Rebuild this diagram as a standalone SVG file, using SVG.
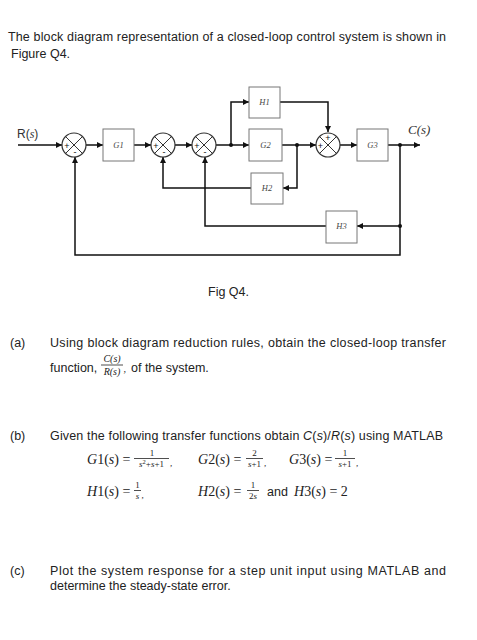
<svg xmlns="http://www.w3.org/2000/svg" width="477" height="640" viewBox="0 0 477 640">
<defs>
<marker id="arr" viewBox="0 0 10 10" refX="10" refY="5" markerWidth="6" markerHeight="6" markerUnits="userSpaceOnUse" orient="auto">
<path d="M0,0 L10,5 L0,10 z" fill="#111"/>
</marker>
</defs>
<style>
.t{font-family:"Liberation Sans",Arial,sans-serif;font-size:12.5px;fill:#222}
.m{font-family:"Liberation Serif","DejaVu Serif",serif;font-style:italic;font-size:14px;fill:#222}
.mu{font-style:normal}
.f{font-family:"Liberation Serif","DejaVu Serif",serif;font-style:italic;font-size:9px;fill:#222}
.fa{font-family:"Liberation Serif","DejaVu Serif",serif;font-style:italic;font-size:10px;fill:#222}
.blk{fill:#fff;stroke:#777;stroke-width:1}
.bl{font-family:"Liberation Serif","DejaVu Serif",serif;font-style:italic;font-size:8.5px;fill:#444;text-anchor:middle}
.sum{fill:#fff;stroke:#333;stroke-width:1.2}
.sx{stroke:#333;stroke-width:1}
.sg{font-family:"Liberation Sans",Arial,sans-serif;font-size:9px;fill:#111;text-anchor:middle}
.c{fill:none;stroke:#111;stroke-width:1.5}
.fl{stroke:#222;stroke-width:0.8}
</style>
<rect width="477" height="640" fill="#fff"/>
<text class="t" x="8" y="41" textLength="438" lengthAdjust="spacing">The block diagram representation of a closed-loop control system is shown in</text>
<text class="t" x="11" y="58">Figure Q4.</text>

<g id="connectors">
<path class="c" d="M18,145 H62" marker-end="url(#arr)"/>
<path class="c" d="M86,145 H103" marker-end="url(#arr)"/>
<path class="c" d="M134,145 H151" marker-end="url(#arr)"/>
<path class="c" d="M175,145 H192" marker-end="url(#arr)"/>
<path class="c" d="M216,145 H249" marker-end="url(#arr)"/>
<path class="c" d="M231,145 V102 H249" marker-end="url(#arr)"/>
<path class="c" d="M280,102 H328 V132" marker-end="url(#arr)"/>
<path class="c" d="M282,145 H316" marker-end="url(#arr)"/>
<path class="c" d="M340,145 H357" marker-end="url(#arr)"/>
<path class="c" d="M388,145 H420" marker-end="url(#arr)"/>
<path class="c" d="M297,145 V188 H283" marker-end="url(#arr)"/>
<path class="c" d="M251,188 H163 V157" marker-end="url(#arr)"/>
<path class="c" d="M400,145 V226 H357" marker-end="url(#arr)"/>
<path class="c" d="M326,226 H205 V157" marker-end="url(#arr)"/>
<path class="c" d="M400,226 V255 H75 V157" marker-end="url(#arr)"/>
<circle cx="231" cy="145" r="2" fill="#111"/>
<circle cx="297" cy="145" r="2" fill="#111"/>
<circle cx="400" cy="145" r="2" fill="#111"/>
<circle cx="400" cy="226" r="2" fill="#111"/>
</g>

<text x="17" y="138" font-family="Liberation Sans,Arial,sans-serif" font-size="12" fill="#333">R(<tspan font-family="Liberation Serif,serif" font-style="italic">s</tspan>)</text>
<text x="408" y="134" font-family="Liberation Serif,serif" font-style="italic" font-size="13" fill="#333">C(s)</text>

<g id="sum1">
<circle class="sum" cx="74" cy="145" r="12"/>
<path class="sx" d="M65.5,136.5 L82.5,153.5 M82.5,136.5 L65.5,153.5"/>
<text class="sg" x="67" y="148.5">+</text>
<text class="sg" x="75" y="154.5">-</text>
</g>
<g id="G1"><rect class="blk" x="103" y="129" width="31" height="32"/><text class="bl" x="118.5" y="148">G1</text></g>
<g id="sum2">
<circle class="sum" cx="163" cy="145" r="12"/>
<path class="sx" d="M154.5,136.5 L171.5,153.5 M171.5,136.5 L154.5,153.5"/>
<text class="sg" x="156" y="148.5">+</text>
<text class="sg" x="164" y="154.5">-</text>
</g>
<g id="sum3">
<circle class="sum" cx="204" cy="145" r="12"/>
<path class="sx" d="M195.5,136.5 L212.5,153.5 M212.5,136.5 L195.5,153.5"/>
<text class="sg" x="197" y="148.5">+</text>
<text class="sg" x="205" y="154.5">-</text>
</g>
<g id="H1"><rect class="blk" x="249" y="87" width="31" height="31"/><text class="bl" x="264.5" y="105">H1</text></g>
<g id="G2"><rect class="blk" x="249" y="129" width="33" height="32"/><text class="bl" x="265.5" y="148">G2</text></g>
<g id="H2"><rect class="blk" x="251" y="173" width="32" height="31"/><text class="bl" x="267" y="191">H2</text></g>
<g id="sum4">
<circle class="sum" cx="328" cy="145" r="12"/>
<path class="sx" d="M319.5,136.5 L336.5,153.5 M336.5,136.5 L319.5,153.5"/>
<text class="sg" x="328" y="141">+</text>
<text class="sg" x="320.5" y="148.5">+</text>
</g>
<g id="G3"><rect class="blk" x="357" y="129" width="31" height="32"/><text class="bl" x="372.5" y="148">G3</text></g>
<g id="H3"><rect class="blk" x="326" y="211" width="31" height="32"/><text class="bl" x="341.5" y="229">H3</text></g>

<text class="t" x="208" y="296">Fig Q4.</text>

<text class="t" x="10" y="347">(a)</text>
<text class="t" x="50" y="347" textLength="396" lengthAdjust="spacing">Using block diagram reduction rules, obtain the closed-loop transfer</text>
<text class="t" x="50" y="372">function,</text>
<text class="fa" x="112" y="362" text-anchor="middle">C(s)</text>
<line class="fl" x1="101" y1="365" x2="123" y2="365"/>
<text class="fa" x="112" y="375" text-anchor="middle">R(s)</text>
<text class="fa" x="123.5" y="372">,</text>
<text class="t" x="131" y="372">of the system.</text>

<text class="t" x="10" y="440">(b)</text>
<text class="t" x="50" y="440" textLength="393" lengthAdjust="spacing">Given the following transfer functions obtain <tspan font-style="italic">C</tspan>(<tspan font-style="italic">s</tspan>)/<tspan font-style="italic">R</tspan>(<tspan font-style="italic">s</tspan>) using MATLAB</text>

<text class="m" x="87" y="464">G<tspan class="mu">1(</tspan>s<tspan class="mu">) =</tspan></text>
<text class="f" x="152" y="456" text-anchor="middle"><tspan font-style="normal">1</tspan></text>
<line class="fl" x1="134" y1="458.5" x2="169" y2="458.5"/>
<text class="f" x="151.5" y="466.5" text-anchor="middle">s<tspan font-style="normal" font-size="6.5" dy="-3">2</tspan><tspan font-style="normal" dy="3">+</tspan>s<tspan font-style="normal">+1</tspan></text>
<text class="f" x="170" y="465.5">,</text>

<text class="m" x="198" y="464">G<tspan class="mu">2(</tspan>s<tspan class="mu">) =</tspan></text>
<text class="f" x="254.5" y="456" text-anchor="middle"><tspan font-style="normal">2</tspan></text>
<line class="fl" x1="246" y1="458.5" x2="263" y2="458.5"/>
<text class="f" x="254.5" y="466.5" text-anchor="middle">s<tspan font-style="normal">+1</tspan></text>
<text class="f" x="264" y="465.5">,</text>

<text class="m" x="289" y="464">G<tspan class="mu">3(</tspan>s<tspan class="mu">) =</tspan></text>
<text class="f" x="345" y="456" text-anchor="middle"><tspan font-style="normal">1</tspan></text>
<line class="fl" x1="335" y1="458.5" x2="355" y2="458.5"/>
<text class="f" x="345" y="466.5" text-anchor="middle">s<tspan font-style="normal">+1</tspan></text>
<text class="f" x="356" y="465.5">,</text>

<text class="m" x="87" y="496">H<tspan class="mu">1(</tspan>s<tspan class="mu">) =</tspan></text>
<text class="f" x="137.5" y="488" text-anchor="middle"><tspan font-style="normal">1</tspan></text>
<line class="fl" x1="134" y1="490.5" x2="141" y2="490.5"/>
<text class="f" x="137.5" y="498.5" text-anchor="middle">s</text>
<text class="f" x="141.5" y="497.5">,</text>

<text class="m" x="198" y="496">H<tspan class="mu">2(</tspan>s<tspan class="mu">) =</tspan></text>
<text class="f" x="253" y="488" text-anchor="middle"><tspan font-style="normal">1</tspan></text>
<line class="fl" x1="247" y1="490.5" x2="259" y2="490.5"/>
<text class="f" x="253" y="498.5" text-anchor="middle"><tspan font-style="normal">2</tspan>s</text>
<text class="t" x="267" y="496">and</text>
<text class="m" x="294" y="496">H<tspan class="mu">3(</tspan>s<tspan class="mu">) = 2</tspan></text>

<text class="t" x="10" y="575">(c)</text>
<text class="t" x="50" y="575" textLength="396" lengthAdjust="spacing">Plot the system response for a step unit input using MATLAB and</text>
<text class="t" x="50" y="590">determine the steady-state error.</text>
</svg>
